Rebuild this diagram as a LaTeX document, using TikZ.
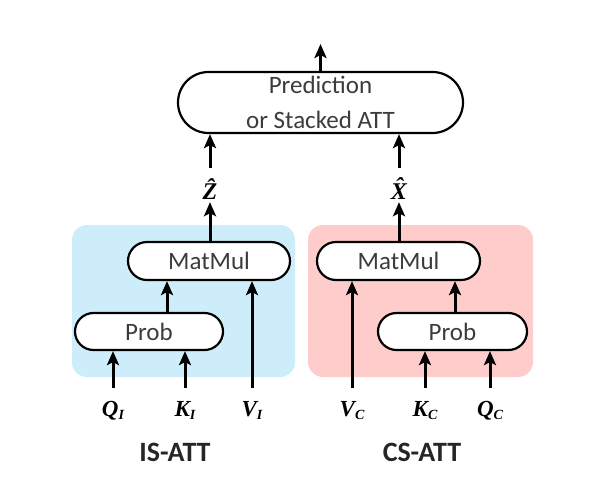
\documentclass[tikz,border=0pt]{standalone}
\usepackage{fontspec}
\setmainfont{Carlito}
\newfontfamily\lblfont{Liberation Serif}
\usetikzlibrary{shapes.misc,arrows.meta}
\definecolor{isbg}{RGB}{205,237,250}
\definecolor{csbg}{RGB}{255,204,204}
\definecolor{boxtext}{RGB}{60,60,60}
\tikzset{
  opbox/.style={rounded rectangle, draw=black, line width=2.2pt, fill=white,
    text=boxtext, font=\fontsize{25}{30}\selectfont, inner sep=0pt},
  arr/.style={line width=3pt, -{Stealth[length=14pt,width=12pt,inset=3pt]}},
  inlbl/.style={font=\lblfont\bfseries\itshape\fontsize{23}{23}\selectfont,
    inner sep=0pt, outer ysep=13pt, anchor=base},
  hatlbl/.style={font=\lblfont\bfseries\itshape\fontsize{24}{24}\selectfont,
    inner xsep=0pt, inner ysep=3pt, text height=28pt, text depth=0pt, anchor=base},
  grplbl/.style={font=\bfseries\fontsize{28}{28}\selectfont, text=black!85, anchor=base},
  bgbox/.style={rounded corners=15pt, draw=none}
}
\newcommand{\sbx}[1]{\raisebox{-3pt}{\fontsize{14}{14}\selectfont #1}}
\newcommand{\hatted}[1]{\begin{tabular}{@{}c@{}}\raisebox{-11pt}{\fontsize{18}{18}\selectfont\^{}}\\[-2pt]#1\end{tabular}}
\begin{document}
\begin{tikzpicture}[x=1pt,y=-1pt]
\useasboundingbox (0,0) rectangle (598,485);
% backgrounds
\fill[isbg,bgbox] (72,225) rectangle (295,377);
\fill[csbg,bgbox] (308,225) rectangle (533,377);
% top box
\node[opbox, minimum width=285pt, minimum height=61pt, align=center,
  font=\fontsize{25}{35}\selectfont] (pred) at (320.5,102.5) {Prediction\\or Stacked ATT};
\coordinate (out) at (320.5,44);
\draw[arr] (pred.north) -- (out);
% hat labels
\node[hatlbl] (zhat) at (210,199) {\^{Z}};
\node[hatlbl] (xhat) at (399,199) {\^{X}};
\draw[arr] (zhat.north) -- (zhat.north |- pred.south);
\draw[arr] (xhat.north) -- (xhat.north |- pred.south);
% IS-ATT
\node[opbox, minimum width=162pt, minimum height=38pt] (mm1) at (209,261) {MatMul};
\node[opbox, minimum width=148pt, minimum height=37pt] (prob1) at (149,331.5) {Prob};
\draw[arr] (mm1.north -| zhat) -- (zhat.south);
\draw[arr] (prob1.north -| 167,0) -- (167,0 |- mm1.south);
\node[inlbl] (qi) at (113,416) {Q\sbx{I}};
\node[inlbl] (ki) at (185,416) {K\sbx{I}};
\node[inlbl] (vi) at (252,416) {V\sbx{I}};
\draw[arr] (qi.north) -- (qi.north |- prob1.south);
\draw[arr] (ki.north) -- (ki.north |- prob1.south);
\draw[arr] (vi.north) -- (vi.north |- mm1.south);
\node[grplbl] (isatt) at (175,461) {IS-ATT};
% CS-ATT
\node[opbox, minimum width=163pt, minimum height=38pt] (mm2) at (398.5,261) {MatMul};
\node[opbox, minimum width=149pt, minimum height=37pt] (prob2) at (452.5,331.5) {Prob};
\draw[arr] (mm2.north -| xhat) -- (xhat.south);
\draw[arr] (prob2.north -| 455,0) -- (455,0 |- mm2.south);
\node[inlbl] (vc) at (352,416) {V\sbx{C}};
\node[inlbl] (kc) at (425,416) {K\sbx{C}};
\node[inlbl] (qc) at (490,416) {Q\sbx{C}};
\draw[arr] (vc.north) -- (vc.north |- mm2.south);
\draw[arr] (kc.north) -- (kc.north |- prob2.south);
\draw[arr] (qc.north) -- (qc.north |- prob2.south);
\node[grplbl] (csatt) at (422,461) {CS-ATT};
\end{tikzpicture}
\end{document}
